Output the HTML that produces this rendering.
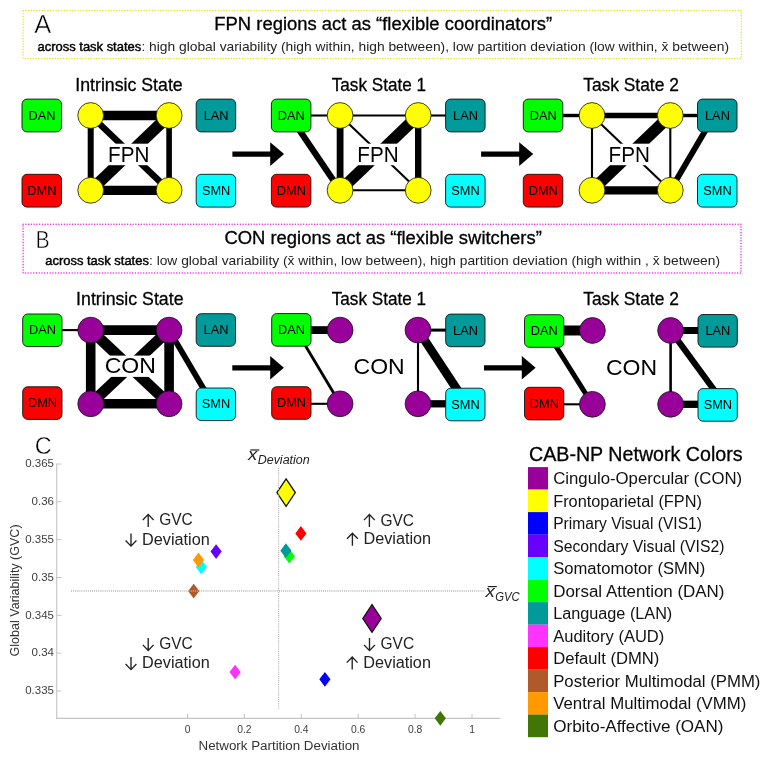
<!DOCTYPE html>
<html><head><meta charset="utf-8"><title>Figure</title>
<style>
html,body{margin:0;padding:0;background:#fff;}
body{width:767px;height:759px;overflow:hidden;font-family:"Liberation Sans", sans-serif;}
svg{display:block;will-change:transform;font-family:"Liberation Sans", sans-serif;}
</style></head><body>
<svg width="767" height="759" viewBox="0 0 767 759">
<rect x="0" y="0" width="767" height="759" fill="#fff"/>
<rect x="23.1" y="10.6" width="718.2" height="47.9" fill="none" stroke="#e4e420" stroke-width="1.5" stroke-linecap="round" stroke-dasharray="0.01 2.74"/>
<text x="34.2" y="33.3" font-size="25" text-anchor="start" font-weight="normal" font-style="normal" fill="#000" textLength="17" lengthAdjust="spacingAndGlyphs" stroke="#fff" stroke-width="0.5">A</text>
<text x="214.3" y="29.7" font-size="18.3" textLength="337.9" lengthAdjust="spacingAndGlyphs" stroke="#000" stroke-width="0.3">FPN regions act as “flexible coordinators”</text>
<text x="37.6" y="50.9" font-size="12.7" textLength="103.6" lengthAdjust="spacingAndGlyphs" stroke="#000" stroke-width="0.45">across task states</text>
<text x="141.4" y="50.9" font-size="13" text-anchor="start" font-weight="normal" font-style="normal" fill="#222" textLength="587.6" lengthAdjust="spacingAndGlyphs">: high global variability (high within, high between), low partition deviation (low within, x̄ between)</text>
<text x="75.3" y="90.7" font-size="18.2" textLength="107.4" lengthAdjust="spacingAndGlyphs" stroke="#000" stroke-width="0.3">Intrinsic State</text>
<text x="331.8" y="90.7" font-size="18.2" textLength="94.2" lengthAdjust="spacingAndGlyphs" stroke="#000" stroke-width="0.3">Task State 1</text>
<text x="583.2" y="90.7" font-size="18.2" textLength="95.7" lengthAdjust="spacingAndGlyphs" stroke="#000" stroke-width="0.3">Task State 2</text>
<line x1="90.7" y1="115.5" x2="169.1" y2="115.5" stroke="#000" stroke-width="9.3"/>
<line x1="90.7" y1="190.3" x2="169.1" y2="190.3" stroke="#000" stroke-width="9.3"/>
<line x1="90.7" y1="115.5" x2="90.7" y2="190.3" stroke="#000" stroke-width="6"/>
<line x1="169.1" y1="115.5" x2="169.1" y2="190.3" stroke="#000" stroke-width="5.6"/>
<line x1="90.7" y1="115.5" x2="169.1" y2="190.3" stroke="#000" stroke-width="6.5"/>
<line x1="90.7" y1="190.3" x2="169.1" y2="115.5" stroke="#000" stroke-width="11.5"/>
<rect x="108.20000000000002" y="143.7" width="41" height="21.5" fill="#fff"/>
<text x="108.10000000000001" y="162.3" font-size="21.5" text-anchor="start" font-weight="normal" font-style="normal" fill="#000" textLength="41.3" lengthAdjust="spacingAndGlyphs">FPN</text>
<circle cx="90.7" cy="115.5" r="12.9" fill="#ffff00" stroke="#111" stroke-width="0.8"/>
<circle cx="169.1" cy="115.5" r="12.9" fill="#ffff00" stroke="#111" stroke-width="0.8"/>
<circle cx="90.7" cy="190.3" r="12.9" fill="#ffff00" stroke="#111" stroke-width="0.8"/>
<circle cx="169.1" cy="190.3" r="12.9" fill="#ffff00" stroke="#111" stroke-width="0.8"/>
<rect x="22" y="99.1" width="39.5" height="32.8" rx="5" ry="5" fill="#00ff00" stroke="#111" stroke-width="0.9"/>
<text x="41.95" y="119.6" font-size="12.8" text-anchor="middle" font-weight="normal" font-style="normal" fill="#000">DAN</text>
<rect x="22" y="174.3" width="39.5" height="32.8" rx="5" ry="5" fill="#ff0000" stroke="#111" stroke-width="0.9"/>
<text x="41.95" y="194.8" font-size="12.8" text-anchor="middle" font-weight="normal" font-style="normal" fill="#000">DMN</text>
<rect x="196.2" y="99.1" width="39.5" height="32.8" rx="5" ry="5" fill="#009a9a" stroke="#111" stroke-width="0.9"/>
<text x="216.15" y="119.6" font-size="12.8" text-anchor="middle" font-weight="normal" font-style="normal" fill="#000">LAN</text>
<rect x="196.2" y="174.3" width="39.5" height="32.8" rx="5" ry="5" fill="#00ffff" stroke="#111" stroke-width="0.9"/>
<text x="216.15" y="194.8" font-size="12.8" text-anchor="middle" font-weight="normal" font-style="normal" fill="#000">SMN</text>
<path d="M232.4 151.5H270.2V142.29999999999998L284.1 154.1L270.2 165.9V156.7H232.4Z" fill="#000"/>
<line x1="310.4" y1="115.5" x2="340.1" y2="115.5" stroke="#000" stroke-width="2.1"/>
<line x1="340.1" y1="115.5" x2="418.20000000000005" y2="115.5" stroke="#000" stroke-width="2.1"/>
<line x1="418.20000000000005" y1="115.5" x2="446.4" y2="115.5" stroke="#000" stroke-width="2.1"/>
<line x1="340.1" y1="115.5" x2="340.1" y2="190.3" stroke="#000" stroke-width="6.8"/>
<line x1="418.20000000000005" y1="115.5" x2="418.20000000000005" y2="190.3" stroke="#000" stroke-width="6.4"/>
<line x1="340.1" y1="190.3" x2="418.20000000000005" y2="190.3" stroke="#000" stroke-width="2.1"/>
<line x1="340.1" y1="115.5" x2="418.20000000000005" y2="190.3" stroke="#000" stroke-width="2.1"/>
<line x1="340.1" y1="190.3" x2="418.20000000000005" y2="115.5" stroke="#000" stroke-width="11.5"/>
<line x1="299.3" y1="130" x2="340.1" y2="190.3" stroke="#000" stroke-width="6.3"/>
<rect x="357.4" y="143.7" width="41" height="21.5" fill="#fff"/>
<text x="357.3" y="162.3" font-size="21.5" text-anchor="start" font-weight="normal" font-style="normal" fill="#000" textLength="41.3" lengthAdjust="spacingAndGlyphs">FPN</text>
<circle cx="340.1" cy="115.5" r="12.9" fill="#ffff00" stroke="#111" stroke-width="0.8"/>
<circle cx="418.20000000000005" cy="115.5" r="12.9" fill="#ffff00" stroke="#111" stroke-width="0.8"/>
<circle cx="340.1" cy="190.3" r="12.9" fill="#ffff00" stroke="#111" stroke-width="0.8"/>
<circle cx="418.20000000000005" cy="190.3" r="12.9" fill="#ffff00" stroke="#111" stroke-width="0.8"/>
<rect x="271.4" y="99.1" width="39.5" height="32.8" rx="5" ry="5" fill="#00ff00" stroke="#111" stroke-width="0.9"/>
<text x="291.35" y="119.6" font-size="12.8" text-anchor="middle" font-weight="normal" font-style="normal" fill="#000">DAN</text>
<rect x="271.4" y="174.3" width="39.5" height="32.8" rx="5" ry="5" fill="#ff0000" stroke="#111" stroke-width="0.9"/>
<text x="291.35" y="194.8" font-size="12.8" text-anchor="middle" font-weight="normal" font-style="normal" fill="#000">DMN</text>
<rect x="445.6" y="99.1" width="39.5" height="32.8" rx="5" ry="5" fill="#009a9a" stroke="#111" stroke-width="0.9"/>
<text x="465.55" y="119.6" font-size="12.8" text-anchor="middle" font-weight="normal" font-style="normal" fill="#000">LAN</text>
<rect x="445.6" y="174.3" width="39.5" height="32.8" rx="5" ry="5" fill="#00ffff" stroke="#111" stroke-width="0.9"/>
<text x="465.55" y="194.8" font-size="12.8" text-anchor="middle" font-weight="normal" font-style="normal" fill="#000">SMN</text>
<path d="M481.1 151.5H519.2V142.29999999999998L533.2 154.1L519.2 165.9V156.7H481.1Z" fill="#000"/>
<line x1="562.3" y1="115.5" x2="592.0" y2="115.5" stroke="#000" stroke-width="3.4"/>
<line x1="592.0" y1="115.5" x2="670.3" y2="115.5" stroke="#000" stroke-width="5.3"/>
<line x1="670.3" y1="115.5" x2="698.3" y2="115.5" stroke="#000" stroke-width="3.4"/>
<line x1="592.0" y1="115.5" x2="592.0" y2="190.3" stroke="#000" stroke-width="2.1"/>
<line x1="670.3" y1="115.5" x2="670.3" y2="190.3" stroke="#000" stroke-width="2.1"/>
<line x1="592.0" y1="190.3" x2="670.3" y2="190.3" stroke="#000" stroke-width="8.3"/>
<line x1="592.0" y1="115.5" x2="670.3" y2="190.3" stroke="#000" stroke-width="2.1"/>
<line x1="592.0" y1="190.3" x2="670.3" y2="115.5" stroke="#000" stroke-width="11.5"/>
<line x1="705.7" y1="130" x2="670.3" y2="190.3" stroke="#000" stroke-width="5.8"/>
<rect x="608.6999999999999" y="143.7" width="41" height="21.5" fill="#fff"/>
<text x="608.5999999999999" y="162.3" font-size="21.5" text-anchor="start" font-weight="normal" font-style="normal" fill="#000" textLength="41.3" lengthAdjust="spacingAndGlyphs">FPN</text>
<circle cx="592.0" cy="115.5" r="12.9" fill="#ffff00" stroke="#111" stroke-width="0.8"/>
<circle cx="670.3" cy="115.5" r="12.9" fill="#ffff00" stroke="#111" stroke-width="0.8"/>
<circle cx="592.0" cy="190.3" r="12.9" fill="#ffff00" stroke="#111" stroke-width="0.8"/>
<circle cx="670.3" cy="190.3" r="12.9" fill="#ffff00" stroke="#111" stroke-width="0.8"/>
<rect x="523.3" y="99.1" width="39.5" height="32.8" rx="5" ry="5" fill="#00ff00" stroke="#111" stroke-width="0.9"/>
<text x="543.25" y="119.6" font-size="12.8" text-anchor="middle" font-weight="normal" font-style="normal" fill="#000">DAN</text>
<rect x="523.3" y="174.3" width="39.5" height="32.8" rx="5" ry="5" fill="#ff0000" stroke="#111" stroke-width="0.9"/>
<text x="543.25" y="194.8" font-size="12.8" text-anchor="middle" font-weight="normal" font-style="normal" fill="#000">DMN</text>
<rect x="697.5" y="99.1" width="39.5" height="32.8" rx="5" ry="5" fill="#009a9a" stroke="#111" stroke-width="0.9"/>
<text x="717.45" y="119.6" font-size="12.8" text-anchor="middle" font-weight="normal" font-style="normal" fill="#000">LAN</text>
<rect x="697.5" y="174.3" width="39.5" height="32.8" rx="5" ry="5" fill="#00ffff" stroke="#111" stroke-width="0.9"/>
<text x="717.45" y="194.8" font-size="12.8" text-anchor="middle" font-weight="normal" font-style="normal" fill="#000">SMN</text>
<rect x="23.1" y="224.3" width="717.9" height="48.8" fill="none" stroke="#ee22ee" stroke-width="1.5" stroke-linecap="round" stroke-dasharray="0.01 2.74"/>
<text x="35.6" y="248.4" font-size="23.5" text-anchor="start" font-weight="normal" font-style="normal" fill="#000" textLength="14.2" lengthAdjust="spacingAndGlyphs" stroke="#fff" stroke-width="0.5">B</text>
<text x="224.4" y="243.6" font-size="18.3" textLength="317.4" lengthAdjust="spacingAndGlyphs" stroke="#000" stroke-width="0.3">CON regions act as “flexible switchers”</text>
<text x="45.3" y="264.8" font-size="12.7" textLength="103.6" lengthAdjust="spacingAndGlyphs" stroke="#000" stroke-width="0.45">across task states</text>
<text x="149" y="264.8" font-size="13" text-anchor="start" font-weight="normal" font-style="normal" fill="#222" textLength="571" lengthAdjust="spacingAndGlyphs">: low global variability (x̄ within, low between), high partition deviation (high within , x̄ between)</text>
<text x="76.1" y="304.8" font-size="18.2" textLength="107.4" lengthAdjust="spacingAndGlyphs" stroke="#000" stroke-width="0.3">Intrinsic State</text>
<text x="331.8" y="304.8" font-size="18.2" textLength="94.2" lengthAdjust="spacingAndGlyphs" stroke="#000" stroke-width="0.3">Task State 1</text>
<text x="583.2" y="304.8" font-size="18.2" textLength="95.7" lengthAdjust="spacingAndGlyphs" stroke="#000" stroke-width="0.3">Task State 2</text>
<line x1="61" y1="330.1" x2="90.7" y2="330.1" stroke="#000" stroke-width="2.1"/>
<line x1="90.7" y1="330.1" x2="169.1" y2="330.1" stroke="#000" stroke-width="9.6"/>
<line x1="90.7" y1="403.8" x2="169.1" y2="403.8" stroke="#000" stroke-width="9.6"/>
<line x1="90.7" y1="330.1" x2="90.7" y2="403.8" stroke="#000" stroke-width="9.6"/>
<line x1="169.1" y1="330.1" x2="169.1" y2="403.8" stroke="#000" stroke-width="9.6"/>
<line x1="90.7" y1="330.1" x2="169.1" y2="403.8" stroke="#000" stroke-width="11"/>
<line x1="90.7" y1="403.8" x2="169.1" y2="330.1" stroke="#000" stroke-width="11"/>
<line x1="169.1" y1="330.1" x2="204.3" y2="390" stroke="#000" stroke-width="5.8"/>
<rect x="104.6" y="355.59999999999997" width="51" height="21.3" fill="#fff"/>
<text x="104.7" y="373.2" font-size="22" text-anchor="start" font-weight="normal" font-style="normal" fill="#000" textLength="51.1" lengthAdjust="spacingAndGlyphs">CON</text>
<circle cx="90.7" cy="330.1" r="12.9" fill="#990099" stroke="#111" stroke-width="0.8"/>
<circle cx="169.1" cy="330.1" r="12.9" fill="#990099" stroke="#111" stroke-width="0.8"/>
<circle cx="90.7" cy="403.8" r="12.9" fill="#990099" stroke="#111" stroke-width="0.8"/>
<circle cx="169.1" cy="403.8" r="12.9" fill="#990099" stroke="#111" stroke-width="0.8"/>
<rect x="22.7" y="314.0" width="39.3" height="32.6" rx="5" ry="5" fill="#00ff00" stroke="#111" stroke-width="0.9"/>
<text x="42.55" y="334.4" font-size="12.8" text-anchor="middle" font-weight="normal" font-style="normal" fill="#000">DAN</text>
<rect x="22.7" y="386.8" width="39.3" height="32.6" rx="5" ry="5" fill="#ff0000" stroke="#111" stroke-width="0.9"/>
<text x="42.55" y="407.2" font-size="12.8" text-anchor="middle" font-weight="normal" font-style="normal" fill="#000">DMN</text>
<rect x="196.2" y="313.7" width="39.3" height="32.6" rx="5" ry="5" fill="#009a9a" stroke="#111" stroke-width="0.9"/>
<text x="216.05" y="334.1" font-size="12.8" text-anchor="middle" font-weight="normal" font-style="normal" fill="#000">LAN</text>
<rect x="196.2" y="388.0" width="39.3" height="32.6" rx="5" ry="5" fill="#00ffff" stroke="#111" stroke-width="0.9"/>
<text x="216.05" y="408.4" font-size="12.8" text-anchor="middle" font-weight="normal" font-style="normal" fill="#000">SMN</text>
<path d="M232.3 365.2H270.2V356.0L283.9 367.8L270.2 379.6V370.40000000000003H232.3Z" fill="#000"/>
<line x1="310.4" y1="330.1" x2="340.1" y2="330.1" stroke="#000" stroke-width="7.8"/>
<line x1="304.4" y1="344" x2="340.1" y2="403.8" stroke="#000" stroke-width="2.8"/>
<line x1="310.4" y1="403.8" x2="340.1" y2="403.8" stroke="#000" stroke-width="2.1"/>
<line x1="418.0" y1="330.1" x2="446.4" y2="330.1" stroke="#000" stroke-width="3"/>
<line x1="418.0" y1="330.1" x2="418.0" y2="403.8" stroke="#000" stroke-width="2.1"/>
<line x1="418.0" y1="330.1" x2="458.70000000000005" y2="392" stroke="#000" stroke-width="8.7"/>
<line x1="418.0" y1="403.8" x2="446.4" y2="403.8" stroke="#000" stroke-width="7.3"/>
<text x="353.6" y="374.0" font-size="22" text-anchor="start" font-weight="normal" font-style="normal" fill="#000" textLength="51.1" lengthAdjust="spacingAndGlyphs">CON</text>
<circle cx="340.1" cy="330.1" r="12.9" fill="#990099" stroke="#111" stroke-width="0.8"/>
<circle cx="418.0" cy="330.1" r="12.9" fill="#990099" stroke="#111" stroke-width="0.8"/>
<circle cx="340.1" cy="403.8" r="12.9" fill="#990099" stroke="#111" stroke-width="0.8"/>
<circle cx="418.0" cy="403.8" r="12.9" fill="#990099" stroke="#111" stroke-width="0.8"/>
<rect x="271.7" y="313.6" width="39.3" height="32.6" rx="5" ry="5" fill="#00ff00" stroke="#111" stroke-width="0.9"/>
<text x="291.55" y="334.0" font-size="12.8" text-anchor="middle" font-weight="normal" font-style="normal" fill="#000">DAN</text>
<rect x="271.7" y="386.7" width="39.3" height="32.6" rx="5" ry="5" fill="#ff0000" stroke="#111" stroke-width="0.9"/>
<text x="291.55" y="407.1" font-size="12.8" text-anchor="middle" font-weight="normal" font-style="normal" fill="#000">DMN</text>
<rect x="445.7" y="314.1" width="39.3" height="32.6" rx="5" ry="5" fill="#009a9a" stroke="#111" stroke-width="0.9"/>
<text x="465.55" y="334.5" font-size="12.8" text-anchor="middle" font-weight="normal" font-style="normal" fill="#000">LAN</text>
<rect x="445.7" y="388.2" width="39.3" height="32.6" rx="5" ry="5" fill="#00ffff" stroke="#111" stroke-width="0.9"/>
<text x="465.55" y="408.6" font-size="12.8" text-anchor="middle" font-weight="normal" font-style="normal" fill="#000">SMN</text>
<path d="M484 365.2H521.8V356.0L535.6 367.8L521.8 379.6V370.40000000000003H484Z" fill="#000"/>
<line x1="562.5" y1="330.5" x2="592.4" y2="330.5" stroke="#000" stroke-width="10"/>
<line x1="555.1" y1="345" x2="592.4" y2="404.3" stroke="#000" stroke-width="5"/>
<line x1="562.5" y1="404.3" x2="592.4" y2="404.3" stroke="#000" stroke-width="2.1"/>
<line x1="670.6" y1="330.5" x2="698.5" y2="330.5" stroke="#000" stroke-width="7"/>
<line x1="670.6" y1="330.5" x2="670.6" y2="404.3" stroke="#000" stroke-width="2.6"/>
<line x1="670.6" y1="330.5" x2="715.6" y2="392" stroke="#000" stroke-width="6.3"/>
<line x1="670.6" y1="404.3" x2="698.5" y2="404.3" stroke="#000" stroke-width="7.3"/>
<text x="605.9" y="374.7" font-size="22" text-anchor="start" font-weight="normal" font-style="normal" fill="#000" textLength="51.1" lengthAdjust="spacingAndGlyphs">CON</text>
<circle cx="592.4" cy="330.5" r="12.9" fill="#990099" stroke="#111" stroke-width="0.8"/>
<circle cx="670.6" cy="330.5" r="12.9" fill="#990099" stroke="#111" stroke-width="0.8"/>
<circle cx="592.4" cy="404.3" r="12.9" fill="#990099" stroke="#111" stroke-width="0.8"/>
<circle cx="670.6" cy="404.3" r="12.9" fill="#990099" stroke="#111" stroke-width="0.8"/>
<rect x="524.5" y="314.7" width="39.3" height="32.6" rx="5" ry="5" fill="#00ff00" stroke="#111" stroke-width="0.9"/>
<text x="544.35" y="335.1" font-size="12.8" text-anchor="middle" font-weight="normal" font-style="normal" fill="#000">DAN</text>
<rect x="524.5" y="387.3" width="39.3" height="32.6" rx="5" ry="5" fill="#ff0000" stroke="#111" stroke-width="0.9"/>
<text x="544.35" y="407.7" font-size="12.8" text-anchor="middle" font-weight="normal" font-style="normal" fill="#000">DMN</text>
<rect x="698" y="314.5" width="39.3" height="32.6" rx="5" ry="5" fill="#009a9a" stroke="#111" stroke-width="0.9"/>
<text x="717.85" y="334.9" font-size="12.8" text-anchor="middle" font-weight="normal" font-style="normal" fill="#000">LAN</text>
<rect x="698" y="388.6" width="39.3" height="32.6" rx="5" ry="5" fill="#00ffff" stroke="#111" stroke-width="0.9"/>
<text x="717.85" y="409.0" font-size="12.8" text-anchor="middle" font-weight="normal" font-style="normal" fill="#000">SMN</text>
<text x="34.7" y="453.7" font-size="24.2" text-anchor="start" font-weight="normal" font-style="normal" fill="#000" textLength="17" lengthAdjust="spacingAndGlyphs" stroke="#fff" stroke-width="0.5">C</text>
<line x1="56.7" y1="463.5" x2="56.7" y2="718.9" stroke="#c4c4c4" stroke-width="1.1"/>
<line x1="56.2" y1="718.4" x2="500.3" y2="718.4" stroke="#c4c4c4" stroke-width="1.1"/>
<line x1="57" y1="464.01" x2="61.5" y2="464.01" stroke="#c4c4c4" stroke-width="1"/>
<text x="54" y="467.21" font-size="10.3" text-anchor="end" font-weight="normal" font-style="normal" fill="#404040" textLength="28.8" lengthAdjust="spacingAndGlyphs">0.365</text>
<line x1="57" y1="501.84" x2="61.5" y2="501.84" stroke="#c4c4c4" stroke-width="1"/>
<text x="54" y="505.04" font-size="10.3" text-anchor="end" font-weight="normal" font-style="normal" fill="#404040" textLength="22.4" lengthAdjust="spacingAndGlyphs">0.36</text>
<line x1="57" y1="539.67" x2="61.5" y2="539.67" stroke="#c4c4c4" stroke-width="1"/>
<text x="54" y="542.87" font-size="10.3" text-anchor="end" font-weight="normal" font-style="normal" fill="#404040" textLength="28.8" lengthAdjust="spacingAndGlyphs">0.355</text>
<line x1="57" y1="577.5" x2="61.5" y2="577.5" stroke="#c4c4c4" stroke-width="1"/>
<text x="54" y="580.7" font-size="10.3" text-anchor="end" font-weight="normal" font-style="normal" fill="#404040" textLength="22.4" lengthAdjust="spacingAndGlyphs">0.35</text>
<line x1="57" y1="615.33" x2="61.5" y2="615.33" stroke="#c4c4c4" stroke-width="1"/>
<text x="54" y="618.53" font-size="10.3" text-anchor="end" font-weight="normal" font-style="normal" fill="#404040" textLength="28.8" lengthAdjust="spacingAndGlyphs">0.345</text>
<line x1="57" y1="653.16" x2="61.5" y2="653.16" stroke="#c4c4c4" stroke-width="1"/>
<text x="54" y="656.36" font-size="10.3" text-anchor="end" font-weight="normal" font-style="normal" fill="#404040" textLength="22.4" lengthAdjust="spacingAndGlyphs">0.34</text>
<line x1="57" y1="690.99" x2="61.5" y2="690.99" stroke="#c4c4c4" stroke-width="1"/>
<text x="54" y="694.19" font-size="10.3" text-anchor="end" font-weight="normal" font-style="normal" fill="#404040" textLength="28.8" lengthAdjust="spacingAndGlyphs">0.335</text>
<line x1="187.5" y1="718.4" x2="187.5" y2="713.9" stroke="#c4c4c4" stroke-width="1"/>
<text x="187.5" y="732.9" font-size="10.3" text-anchor="middle" font-weight="normal" font-style="normal" fill="#404040">0</text>
<line x1="244.4" y1="718.4" x2="244.4" y2="713.9" stroke="#c4c4c4" stroke-width="1"/>
<text x="244.4" y="732.9" font-size="10.3" text-anchor="middle" font-weight="normal" font-style="normal" fill="#404040">0.2</text>
<line x1="301.3" y1="718.4" x2="301.3" y2="713.9" stroke="#c4c4c4" stroke-width="1"/>
<text x="301.3" y="732.9" font-size="10.3" text-anchor="middle" font-weight="normal" font-style="normal" fill="#404040">0.4</text>
<line x1="358.19999999999993" y1="718.4" x2="358.19999999999993" y2="713.9" stroke="#c4c4c4" stroke-width="1"/>
<text x="358.19999999999993" y="732.9" font-size="10.3" text-anchor="middle" font-weight="normal" font-style="normal" fill="#404040">0.6</text>
<line x1="415.1" y1="718.4" x2="415.1" y2="713.9" stroke="#c4c4c4" stroke-width="1"/>
<text x="415.1" y="732.9" font-size="10.3" text-anchor="middle" font-weight="normal" font-style="normal" fill="#404040">0.8</text>
<line x1="472.0" y1="718.4" x2="472.0" y2="713.9" stroke="#c4c4c4" stroke-width="1"/>
<text x="472.0" y="732.9" font-size="10.3" text-anchor="middle" font-weight="normal" font-style="normal" fill="#404040">1</text>
<text x="279" y="749.9" font-size="12.5" text-anchor="middle" font-weight="normal" font-style="normal" fill="#333" textLength="161" lengthAdjust="spacingAndGlyphs">Network Partition Deviation</text>
<text transform="translate(18.6 590.4) rotate(-90)" font-size="12.5" text-anchor="middle" fill="#333" textLength="132" lengthAdjust="spacingAndGlyphs">Global Variability (GVC)</text>
<path d="M193.7 583.7L199.29999999999998 591.1L193.7 598.5L188.1 591.1Z" fill="#b15928"/>
<path d="M201.3 559.5L206.9 566.9L201.3 574.3L195.70000000000002 566.9Z" fill="#00ffff"/>
<path d="M198.5 552.6L204.1 560L198.5 567.4L192.9 560Z" fill="#ff9900"/>
<path d="M216.1 544.2L221.7 551.6L216.1 559.0L210.5 551.6Z" fill="#6600ff"/>
<path d="M289.3 548.8000000000001L294.90000000000003 556.2L289.3 563.6L283.7 556.2Z" fill="#00ff00"/>
<path d="M285.9 543.3000000000001L291.5 550.7L285.9 558.1L280.29999999999995 550.7Z" fill="#009a9a"/>
<path d="M300.9 526.0L306.5 533.4L300.9 540.8L295.29999999999995 533.4Z" fill="#ff0000"/>
<path d="M235.1 664.7L240.7 672.1L235.1 679.5L229.5 672.1Z" fill="#ff33ff"/>
<path d="M324.9 671.9L330.5 679.3L324.9 686.6999999999999L319.29999999999995 679.3Z" fill="#0000ff"/>
<path d="M440.3 710.9L445.90000000000003 718.3L440.3 725.6999999999999L434.7 718.3Z" fill="#417505"/>
<path d="M286.1 478.8L295.3 492.6L286.1 506.40000000000003L276.90000000000003 492.6Z" fill="#ffff00" stroke="#111" stroke-width="1.3"/>
<path d="M372 604.7L381.2 618.5L372 632.3L362.8 618.5Z" fill="#990099" stroke="#111" stroke-width="1.3"/>
<line x1="71" y1="591" x2="485.3" y2="591" stroke="#b4b4b4" stroke-width="1.4" stroke-dasharray="1 1.1"/>
<line x1="278.6" y1="468" x2="278.6" y2="709.6" stroke="#b4b4b4" stroke-width="1.2" stroke-dasharray="1 1.1"/>
<path d="M148.2 527.0V514.4M142.79999999999998 520.0L148.2 514.4L153.6 520.0" fill="none" stroke="#222" stroke-width="1.35"/>
<text x="159.20000000000002" y="525.4" font-size="16" text-anchor="start" font-weight="normal" font-style="normal" fill="#222" textLength="33.6" lengthAdjust="spacingAndGlyphs">GVC</text>
<path d="M131.0 533.5V546.1M125.6 540.5L131.0 546.1L136.4 540.5" fill="none" stroke="#222" stroke-width="1.35"/>
<text x="142.1" y="544.5" font-size="16" text-anchor="start" font-weight="normal" font-style="normal" fill="#222" textLength="67.6" lengthAdjust="spacingAndGlyphs">Deviation</text>
<path d="M148.2 637.9V650.5M142.79999999999998 644.9L148.2 650.5L153.6 644.9" fill="none" stroke="#222" stroke-width="1.35"/>
<text x="159.20000000000002" y="648.9" font-size="16" text-anchor="start" font-weight="normal" font-style="normal" fill="#222" textLength="33.6" lengthAdjust="spacingAndGlyphs">GVC</text>
<path d="M131.0 657.0V669.6M125.6 664.0L131.0 669.6L136.4 664.0" fill="none" stroke="#222" stroke-width="1.35"/>
<text x="142.1" y="668" font-size="16" text-anchor="start" font-weight="normal" font-style="normal" fill="#222" textLength="67.6" lengthAdjust="spacingAndGlyphs">Deviation</text>
<path d="M369.4 527.1V514.5M364.0 520.1L369.4 514.5L374.79999999999995 520.1" fill="none" stroke="#222" stroke-width="1.35"/>
<text x="380.4" y="525.5" font-size="16" text-anchor="start" font-weight="normal" font-style="normal" fill="#222" textLength="33.6" lengthAdjust="spacingAndGlyphs">GVC</text>
<path d="M352.4 545.8V533.2M347.0 538.8000000000001L352.4 533.2L357.79999999999995 538.8000000000001" fill="none" stroke="#222" stroke-width="1.35"/>
<text x="363.5" y="544.2" font-size="16" text-anchor="start" font-weight="normal" font-style="normal" fill="#222" textLength="67.6" lengthAdjust="spacingAndGlyphs">Deviation</text>
<path d="M369.5 638.0V650.6M364.1 645.0L369.5 650.6L374.9 645.0" fill="none" stroke="#222" stroke-width="1.35"/>
<text x="380.5" y="649" font-size="16" text-anchor="start" font-weight="normal" font-style="normal" fill="#222" textLength="33.6" lengthAdjust="spacingAndGlyphs">GVC</text>
<path d="M352.2 669.6V657.0M346.8 662.6L352.2 657.0L357.59999999999997 662.6" fill="none" stroke="#222" stroke-width="1.35"/>
<text x="363.3" y="668" font-size="16" text-anchor="start" font-weight="normal" font-style="normal" fill="#222" textLength="67.6" lengthAdjust="spacingAndGlyphs">Deviation</text>
<text x="248.1" y="460.2" font-size="16" text-anchor="start" font-weight="normal" font-style="italic" fill="#222" textLength="9.3" lengthAdjust="spacingAndGlyphs">x</text>
<line x1="250.29999999999998" y1="450" x2="259.3" y2="450" stroke="#222" stroke-width="1.2"/>
<text x="257.7" y="464.1" font-size="12" text-anchor="start" font-weight="normal" font-style="italic" fill="#222" textLength="52" lengthAdjust="spacingAndGlyphs">Deviation</text>
<text x="485.59999999999997" y="596.8000000000001" font-size="16" text-anchor="start" font-weight="normal" font-style="italic" fill="#222" textLength="9.3" lengthAdjust="spacingAndGlyphs">x</text>
<line x1="487.8" y1="586.6" x2="496.8" y2="586.6" stroke="#222" stroke-width="1.2"/>
<text x="495.2" y="600.7" font-size="12" text-anchor="start" font-weight="normal" font-style="italic" fill="#222" textLength="24.5" lengthAdjust="spacingAndGlyphs">GVC</text>
<text x="529" y="460.8" font-size="20" fill="#000" stroke="#000" stroke-width="0.3" textLength="213.6" lengthAdjust="spacingAndGlyphs">CAB-NP Network Colors</text>
<rect x="528" y="467.10" width="20" height="22.6" fill="#990099"/>
<text x="553.2" y="484.0" font-size="17.3" text-anchor="start" font-weight="normal" font-style="normal" fill="#111" textLength="189.0" lengthAdjust="spacingAndGlyphs">Cingulo-Opercular (CON)</text>
<rect x="528" y="489.60" width="20" height="22.6" fill="#ffff00"/>
<text x="553.2" y="506.5" font-size="17.3" text-anchor="start" font-weight="normal" font-style="normal" fill="#111" textLength="148.7" lengthAdjust="spacingAndGlyphs">Frontoparietal (FPN)</text>
<rect x="528" y="512.10" width="20" height="22.6" fill="#0000ff"/>
<text x="553.2" y="529.0" font-size="17.3" text-anchor="start" font-weight="normal" font-style="normal" fill="#111" textLength="148.7" lengthAdjust="spacingAndGlyphs">Primary Visual (VIS1)</text>
<rect x="528" y="534.60" width="20" height="22.6" fill="#6600ff"/>
<text x="553.2" y="551.5" font-size="17.3" text-anchor="start" font-weight="normal" font-style="normal" fill="#111" textLength="171.3" lengthAdjust="spacingAndGlyphs">Secondary Visual (VIS2)</text>
<rect x="528" y="557.10" width="20" height="22.6" fill="#00ffff"/>
<text x="553.2" y="574.0" font-size="17.3" text-anchor="start" font-weight="normal" font-style="normal" fill="#111" textLength="152.2" lengthAdjust="spacingAndGlyphs">Somatomotor (SMN)</text>
<rect x="528" y="579.60" width="20" height="22.6" fill="#00ff00"/>
<text x="553.2" y="596.5" font-size="17.3" text-anchor="start" font-weight="normal" font-style="normal" fill="#111" textLength="171.3" lengthAdjust="spacingAndGlyphs">Dorsal Attention (DAN)</text>
<rect x="528" y="602.10" width="20" height="22.6" fill="#009a9a"/>
<text x="553.2" y="619.0" font-size="17.3" text-anchor="start" font-weight="normal" font-style="normal" fill="#111" textLength="119.1" lengthAdjust="spacingAndGlyphs">Language (LAN)</text>
<rect x="528" y="624.60" width="20" height="22.6" fill="#ff33ff"/>
<text x="553.2" y="641.5" font-size="17.3" text-anchor="start" font-weight="normal" font-style="normal" fill="#111" textLength="111.1" lengthAdjust="spacingAndGlyphs">Auditory (AUD)</text>
<rect x="528" y="647.10" width="20" height="22.6" fill="#ff0000"/>
<text x="553.2" y="664.0" font-size="17.3" text-anchor="start" font-weight="normal" font-style="normal" fill="#111" textLength="106.2" lengthAdjust="spacingAndGlyphs">Default (DMN)</text>
<rect x="528" y="669.60" width="20" height="22.6" fill="#b15928"/>
<text x="553.2" y="686.5" font-size="17.3" text-anchor="start" font-weight="normal" font-style="normal" fill="#111" textLength="207.2" lengthAdjust="spacingAndGlyphs">Posterior Multimodal (PMM)</text>
<rect x="528" y="692.10" width="20" height="22.6" fill="#ff9900"/>
<text x="553.2" y="709.0" font-size="17.3" text-anchor="start" font-weight="normal" font-style="normal" fill="#111" textLength="193.2" lengthAdjust="spacingAndGlyphs">Ventral Multimodal (VMM)</text>
<rect x="528" y="714.60" width="20" height="22.6" fill="#417505"/>
<text x="553.2" y="731.5" font-size="17.3" text-anchor="start" font-weight="normal" font-style="normal" fill="#111" textLength="170.3" lengthAdjust="spacingAndGlyphs">Orbito-Affective (OAN)</text>
</svg>
</body></html>
